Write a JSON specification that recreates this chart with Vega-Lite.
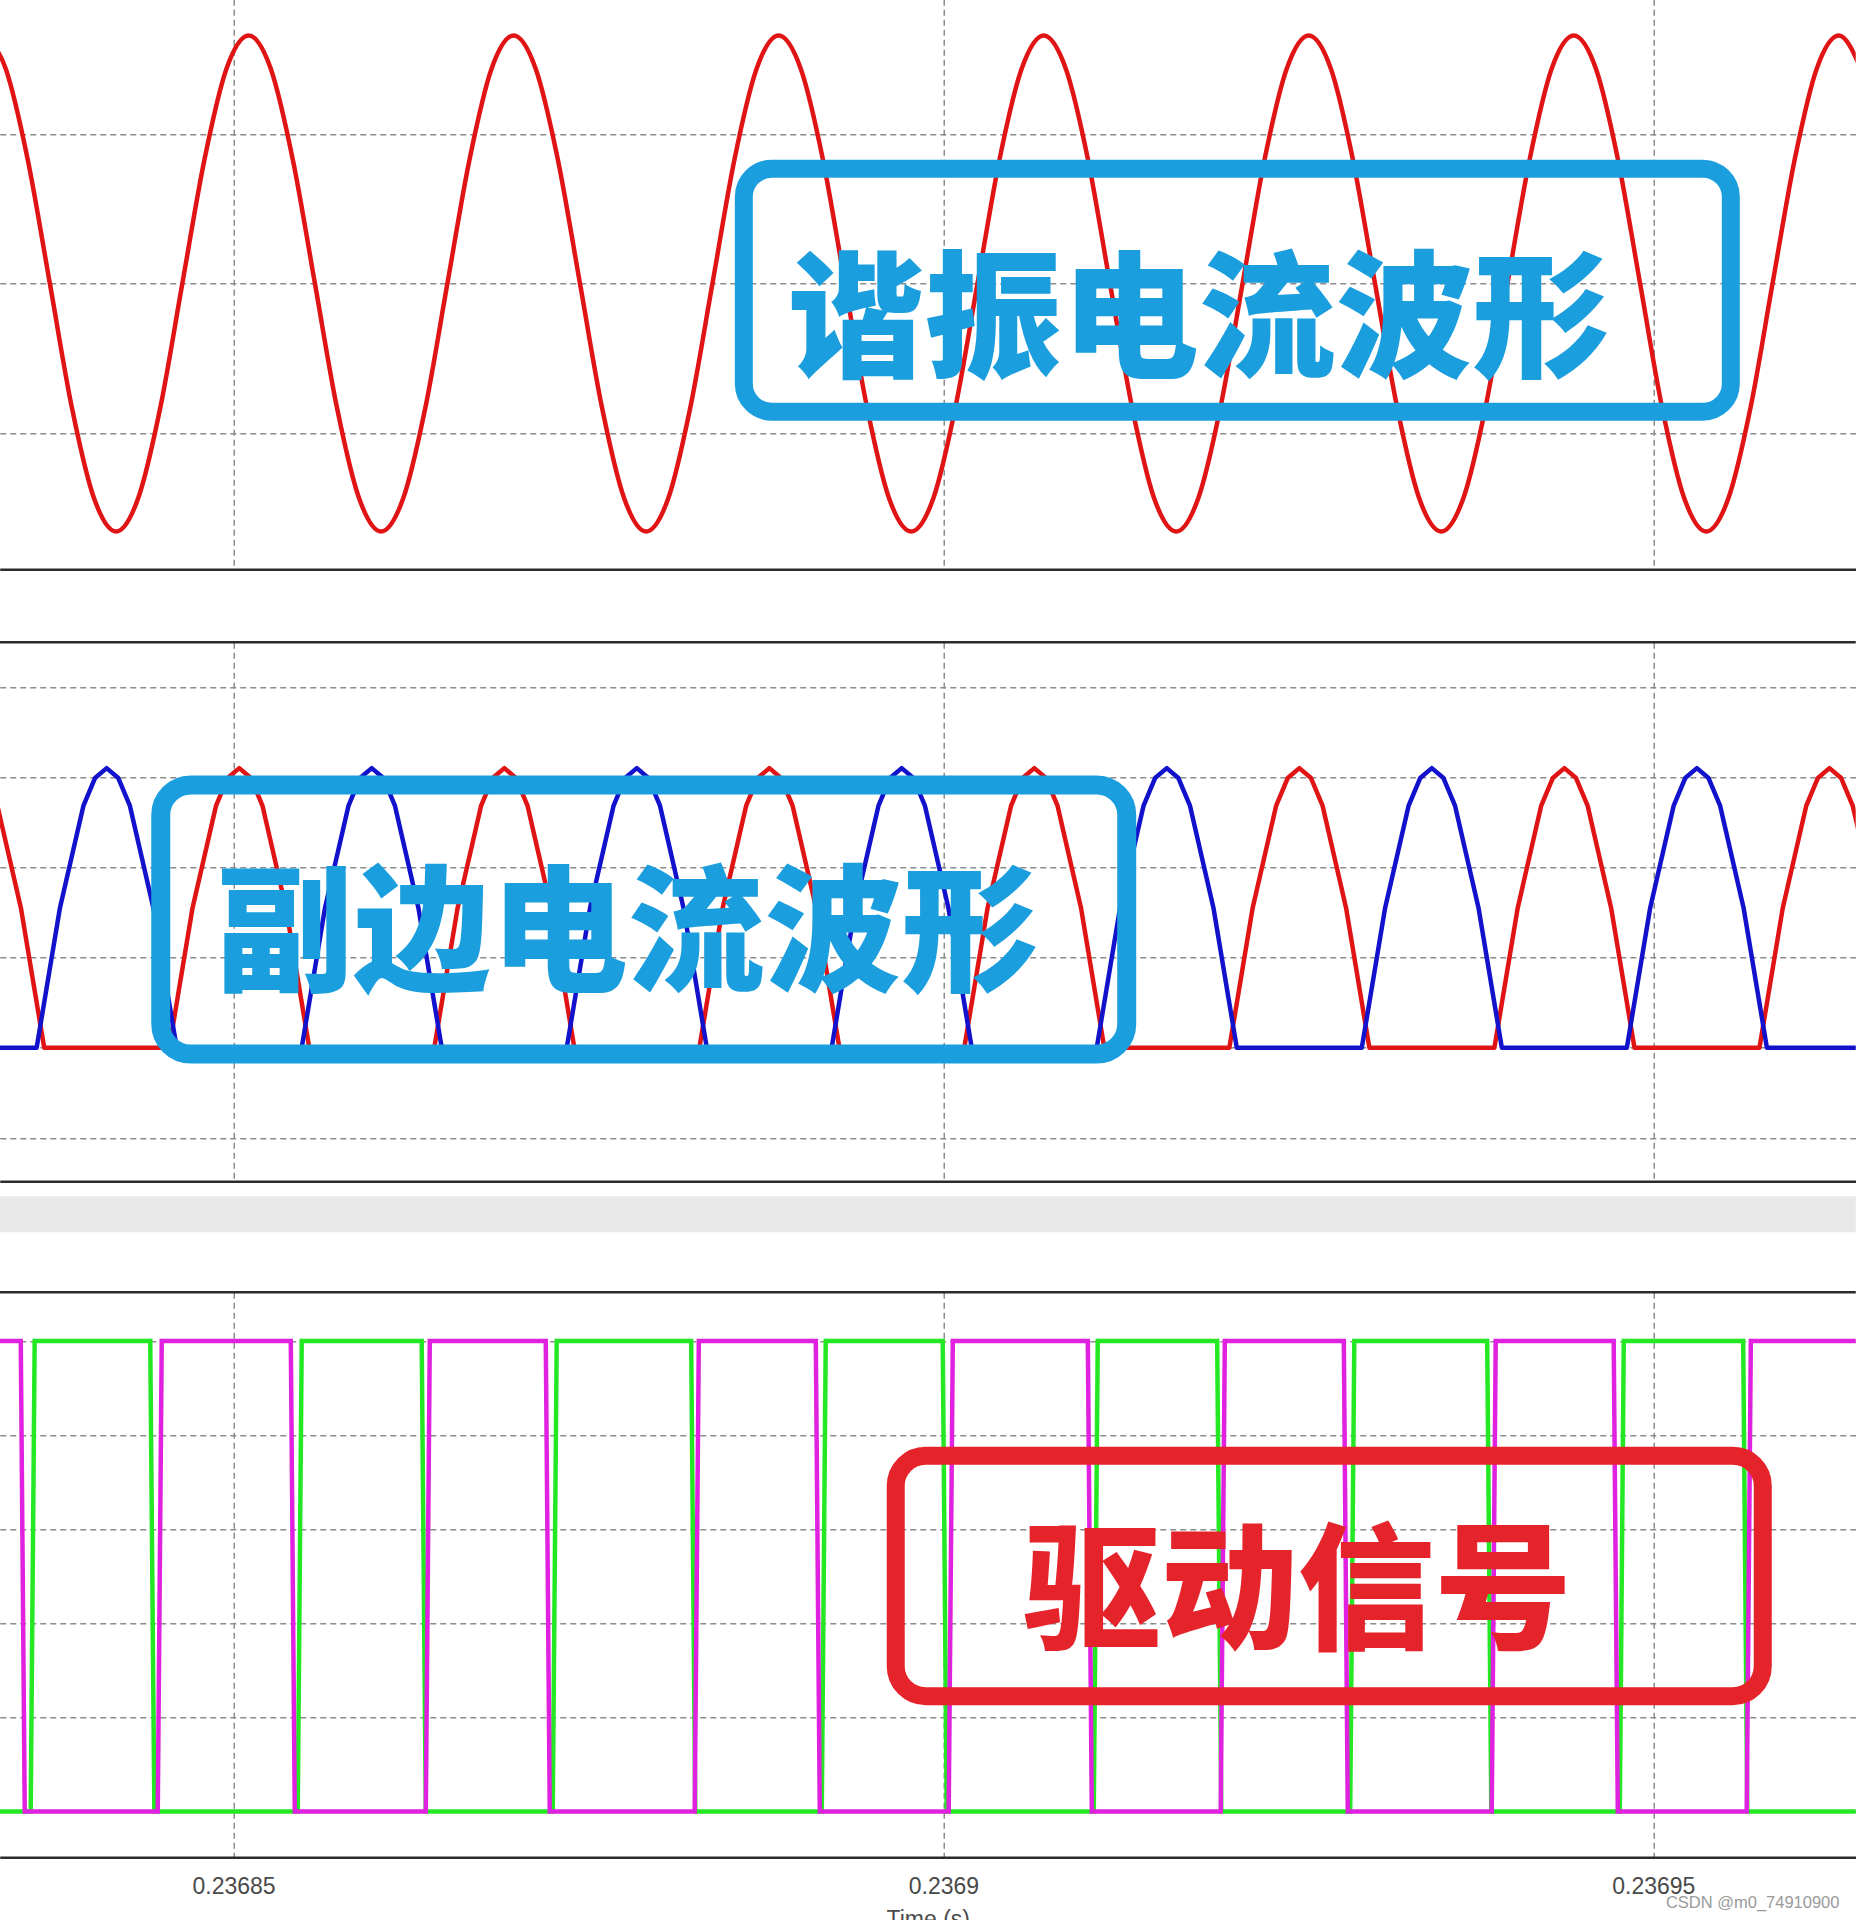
{
  "$schema": "https://vega.github.io/schema/vega-lite/v6.json",
  "padding": {"left": -2.25, "top": -0.75, "right": 0, "bottom": 0},
  "background": "#ffffff",
  "spacing": 14,
  "resolve": {"scale": {"x": "independent", "y": "independent", "color": "independent"}},
  "datasets": {
    "resonant": [
      {"t": 236832.39, "v": 33.15}, {"t": 236833.95, "v": 28.71}, {"t": 236835.50, "v": 16.58}, {"t": 236837.06, "v": 0},
      {"t": 236838.61, "v": -16.58}, {"t": 236840.17, "v": -28.71}, {"t": 236841.73, "v": -33.15}, {"t": 236843.28, "v": -28.71},
      {"t": 236844.84, "v": -16.58}, {"t": 236846.39, "v": 0}, {"t": 236847.95, "v": 16.58}, {"t": 236849.50, "v": 28.71},
      {"t": 236851.06, "v": 33.15}, {"t": 236852.62, "v": 28.71}, {"t": 236854.17, "v": 16.58}, {"t": 236855.73, "v": 0},
      {"t": 236857.28, "v": -16.58}, {"t": 236858.84, "v": -28.71}, {"t": 236860.39, "v": -33.15}, {"t": 236861.95, "v": -28.71},
      {"t": 236863.51, "v": -16.58}, {"t": 236865.06, "v": 0}, {"t": 236866.62, "v": 16.58}, {"t": 236868.17, "v": 28.71},
      {"t": 236869.73, "v": 33.15}, {"t": 236871.28, "v": 28.71}, {"t": 236872.84, "v": 16.58}, {"t": 236874.40, "v": 0},
      {"t": 236875.95, "v": -16.58}, {"t": 236877.51, "v": -28.71}, {"t": 236879.06, "v": -33.15}, {"t": 236880.62, "v": -28.71},
      {"t": 236882.17, "v": -16.58}, {"t": 236883.73, "v": 0}, {"t": 236885.28, "v": 16.58}, {"t": 236886.84, "v": 28.71},
      {"t": 236888.40, "v": 33.15}, {"t": 236889.95, "v": 28.71}, {"t": 236891.51, "v": 16.58}, {"t": 236893.06, "v": 0},
      {"t": 236894.62, "v": -16.58}, {"t": 236896.17, "v": -28.71}, {"t": 236897.73, "v": -33.15}, {"t": 236899.29, "v": -28.71},
      {"t": 236900.84, "v": -16.58}, {"t": 236902.40, "v": 0}, {"t": 236903.95, "v": 16.58}, {"t": 236905.51, "v": 28.71},
      {"t": 236907.06, "v": 33.15}, {"t": 236908.62, "v": 28.71}, {"t": 236910.18, "v": 16.58}, {"t": 236911.73, "v": 0},
      {"t": 236913.29, "v": -16.58}, {"t": 236914.84, "v": -28.71}, {"t": 236916.40, "v": -33.15}, {"t": 236917.95, "v": -28.71},
      {"t": 236919.51, "v": -16.58}, {"t": 236921.07, "v": 0}, {"t": 236922.62, "v": 16.58}, {"t": 236924.18, "v": 28.71},
      {"t": 236925.73, "v": 33.15}, {"t": 236927.29, "v": 28.71}, {"t": 236928.84, "v": 16.58}, {"t": 236930.40, "v": 0},
      {"t": 236931.96, "v": -16.58}, {"t": 236933.51, "v": -28.71}, {"t": 236935.07, "v": -33.15}, {"t": 236936.62, "v": -28.71},
      {"t": 236938.18, "v": -16.58}, {"t": 236939.73, "v": 0}, {"t": 236941.29, "v": 16.58}, {"t": 236942.84, "v": 28.71},
      {"t": 236944.40, "v": 33.15}, {"t": 236945.96, "v": 28.71}, {"t": 236947.51, "v": 16.58}, {"t": 236949.07, "v": 0},
      {"t": 236950.62, "v": -16.58}, {"t": 236952.18, "v": -28.71}, {"t": 236953.73, "v": -33.15}, {"t": 236955.29, "v": -28.71},
      {"t": 236956.85, "v": -16.58}, {"t": 236958.40, "v": 0}, {"t": 236959.96, "v": 16.58}, {"t": 236961.51, "v": 28.71},
      {"t": 236963.07, "v": 33.15}, {"t": 236964.62, "v": 28.71}
    ],
    "secondary": [
      {"s": "D1", "t": 236826.80, "v": 0}, {"s": "D1", "t": 236828.44, "v": 1.55}, {"s": "D1", "t": 236830.09, "v": 2.68}, {"s": "D1", "t": 236830.91, "v": 2.99}, {"s": "D1", "t": 236831.73, "v": 3.10}, {"s": "D1", "t": 236832.55, "v": 2.99}, {"s": "D1", "t": 236833.37, "v": 2.68}, {"s": "D1", "t": 236835.02, "v": 1.55}, {"s": "D1", "t": 236836.66, "v": 0},
      {"s": "D1", "t": 236845.47, "v": 0}, {"s": "D1", "t": 236847.11, "v": 1.55}, {"s": "D1", "t": 236848.76, "v": 2.68}, {"s": "D1", "t": 236849.58, "v": 2.99}, {"s": "D1", "t": 236850.40, "v": 3.10}, {"s": "D1", "t": 236851.22, "v": 2.99}, {"s": "D1", "t": 236852.04, "v": 2.68}, {"s": "D1", "t": 236853.69, "v": 1.55}, {"s": "D1", "t": 236855.33, "v": 0},
      {"s": "D1", "t": 236864.14, "v": 0}, {"s": "D1", "t": 236865.78, "v": 1.55}, {"s": "D1", "t": 236867.43, "v": 2.68}, {"s": "D1", "t": 236868.25, "v": 2.99}, {"s": "D1", "t": 236869.07, "v": 3.10}, {"s": "D1", "t": 236869.89, "v": 2.99}, {"s": "D1", "t": 236870.71, "v": 2.68}, {"s": "D1", "t": 236872.36, "v": 1.55}, {"s": "D1", "t": 236874.00, "v": 0},
      {"s": "D1", "t": 236882.81, "v": 0}, {"s": "D1", "t": 236884.45, "v": 1.55}, {"s": "D1", "t": 236886.10, "v": 2.68}, {"s": "D1", "t": 236886.92, "v": 2.99}, {"s": "D1", "t": 236887.74, "v": 3.10}, {"s": "D1", "t": 236888.56, "v": 2.99}, {"s": "D1", "t": 236889.38, "v": 2.68}, {"s": "D1", "t": 236891.03, "v": 1.55}, {"s": "D1", "t": 236892.67, "v": 0},
      {"s": "D1", "t": 236901.47, "v": 0}, {"s": "D1", "t": 236903.11, "v": 1.55}, {"s": "D1", "t": 236904.76, "v": 2.68}, {"s": "D1", "t": 236905.58, "v": 2.99}, {"s": "D1", "t": 236906.40, "v": 3.10}, {"s": "D1", "t": 236907.22, "v": 2.99}, {"s": "D1", "t": 236908.04, "v": 2.68}, {"s": "D1", "t": 236909.69, "v": 1.55}, {"s": "D1", "t": 236911.33, "v": 0},
      {"s": "D1", "t": 236920.14, "v": 0}, {"s": "D1", "t": 236921.78, "v": 1.55}, {"s": "D1", "t": 236923.43, "v": 2.68}, {"s": "D1", "t": 236924.25, "v": 2.99}, {"s": "D1", "t": 236925.07, "v": 3.10}, {"s": "D1", "t": 236925.89, "v": 2.99}, {"s": "D1", "t": 236926.71, "v": 2.68}, {"s": "D1", "t": 236928.36, "v": 1.55}, {"s": "D1", "t": 236930.00, "v": 0},
      {"s": "D1", "t": 236938.81, "v": 0}, {"s": "D1", "t": 236940.45, "v": 1.55}, {"s": "D1", "t": 236942.10, "v": 2.68}, {"s": "D1", "t": 236942.92, "v": 2.99}, {"s": "D1", "t": 236943.74, "v": 3.10}, {"s": "D1", "t": 236944.56, "v": 2.99}, {"s": "D1", "t": 236945.38, "v": 2.68}, {"s": "D1", "t": 236947.03, "v": 1.55}, {"s": "D1", "t": 236948.67, "v": 0},
      {"s": "D1", "t": 236957.48, "v": 0}, {"s": "D1", "t": 236959.12, "v": 1.55}, {"s": "D1", "t": 236960.77, "v": 2.68}, {"s": "D1", "t": 236961.59, "v": 2.99}, {"s": "D1", "t": 236962.41, "v": 3.10}, {"s": "D1", "t": 236963.23, "v": 2.99}, {"s": "D1", "t": 236964.05, "v": 2.68}, {"s": "D1", "t": 236965.70, "v": 1.55}, {"s": "D1", "t": 236967.34, "v": 0},
      {"s": "D2", "t": 236832.00, "v": 0},
      {"s": "D2", "t": 236836.13, "v": 0}, {"s": "D2", "t": 236837.77, "v": 1.55}, {"s": "D2", "t": 236839.42, "v": 2.68}, {"s": "D2", "t": 236840.24, "v": 2.99}, {"s": "D2", "t": 236841.06, "v": 3.10}, {"s": "D2", "t": 236841.88, "v": 2.99}, {"s": "D2", "t": 236842.70, "v": 2.68}, {"s": "D2", "t": 236844.35, "v": 1.55}, {"s": "D2", "t": 236845.99, "v": 0},
      {"s": "D2", "t": 236854.80, "v": 0}, {"s": "D2", "t": 236856.44, "v": 1.55}, {"s": "D2", "t": 236858.09, "v": 2.68}, {"s": "D2", "t": 236858.91, "v": 2.99}, {"s": "D2", "t": 236859.73, "v": 3.10}, {"s": "D2", "t": 236860.55, "v": 2.99}, {"s": "D2", "t": 236861.37, "v": 2.68}, {"s": "D2", "t": 236863.02, "v": 1.55}, {"s": "D2", "t": 236864.66, "v": 0},
      {"s": "D2", "t": 236873.47, "v": 0}, {"s": "D2", "t": 236875.11, "v": 1.55}, {"s": "D2", "t": 236876.76, "v": 2.68}, {"s": "D2", "t": 236877.58, "v": 2.99}, {"s": "D2", "t": 236878.40, "v": 3.10}, {"s": "D2", "t": 236879.22, "v": 2.99}, {"s": "D2", "t": 236880.04, "v": 2.68}, {"s": "D2", "t": 236881.69, "v": 1.55}, {"s": "D2", "t": 236883.33, "v": 0},
      {"s": "D2", "t": 236892.13, "v": 0}, {"s": "D2", "t": 236893.77, "v": 1.55}, {"s": "D2", "t": 236895.42, "v": 2.68}, {"s": "D2", "t": 236896.24, "v": 2.99}, {"s": "D2", "t": 236897.06, "v": 3.10}, {"s": "D2", "t": 236897.88, "v": 2.99}, {"s": "D2", "t": 236898.70, "v": 2.68}, {"s": "D2", "t": 236900.35, "v": 1.55}, {"s": "D2", "t": 236901.99, "v": 0},
      {"s": "D2", "t": 236910.80, "v": 0}, {"s": "D2", "t": 236912.44, "v": 1.55}, {"s": "D2", "t": 236914.09, "v": 2.68}, {"s": "D2", "t": 236914.91, "v": 2.99}, {"s": "D2", "t": 236915.73, "v": 3.10}, {"s": "D2", "t": 236916.55, "v": 2.99}, {"s": "D2", "t": 236917.37, "v": 2.68}, {"s": "D2", "t": 236919.02, "v": 1.55}, {"s": "D2", "t": 236920.66, "v": 0},
      {"s": "D2", "t": 236929.47, "v": 0}, {"s": "D2", "t": 236931.11, "v": 1.55}, {"s": "D2", "t": 236932.76, "v": 2.68}, {"s": "D2", "t": 236933.58, "v": 2.99}, {"s": "D2", "t": 236934.40, "v": 3.10}, {"s": "D2", "t": 236935.22, "v": 2.99}, {"s": "D2", "t": 236936.04, "v": 2.68}, {"s": "D2", "t": 236937.69, "v": 1.55}, {"s": "D2", "t": 236939.33, "v": 0},
      {"s": "D2", "t": 236948.14, "v": 0}, {"s": "D2", "t": 236949.78, "v": 1.55}, {"s": "D2", "t": 236951.43, "v": 2.68}, {"s": "D2", "t": 236952.25, "v": 2.99}, {"s": "D2", "t": 236953.07, "v": 3.10}, {"s": "D2", "t": 236953.89, "v": 2.99}, {"s": "D2", "t": 236954.71, "v": 2.68}, {"s": "D2", "t": 236956.36, "v": 1.55}, {"s": "D2", "t": 236958.00, "v": 0},
      {"s": "D2", "t": 236966.00, "v": 0}
    ],
    "drive": [
      {"s": "Q2", "t": 236833.18, "v": 0}, {"s": "Q2", "t": 236835.71, "v": 0}, {"s": "Q2", "t": 236835.99, "v": 1}, {"s": "Q2", "t": 236844.13, "v": 1}, {"s": "Q2", "t": 236844.42, "v": 0},
      {"s": "Q2", "t": 236854.52, "v": 0}, {"s": "Q2", "t": 236854.80, "v": 1}, {"s": "Q2", "t": 236863.25, "v": 1}, {"s": "Q2", "t": 236863.54, "v": 0},
      {"s": "Q2", "t": 236872.48, "v": 0}, {"s": "Q2", "t": 236872.76, "v": 1}, {"s": "Q2", "t": 236882.23, "v": 1}, {"s": "Q2", "t": 236882.52, "v": 0},
      {"s": "Q2", "t": 236891.43, "v": 0}, {"s": "Q2", "t": 236891.71, "v": 1}, {"s": "Q2", "t": 236899.95, "v": 1}, {"s": "Q2", "t": 236900.23, "v": 0},
      {"s": "Q2", "t": 236910.59, "v": 0}, {"s": "Q2", "t": 236910.87, "v": 1}, {"s": "Q2", "t": 236919.28, "v": 1}, {"s": "Q2", "t": 236919.57, "v": 0},
      {"s": "Q2", "t": 236928.65, "v": 0}, {"s": "Q2", "t": 236928.94, "v": 1}, {"s": "Q2", "t": 236938.30, "v": 1}, {"s": "Q2", "t": 236938.59, "v": 0},
      {"s": "Q2", "t": 236947.64, "v": 0}, {"s": "Q2", "t": 236947.92, "v": 1}, {"s": "Q2", "t": 236956.33, "v": 1}, {"s": "Q2", "t": 236956.62, "v": 0},
      {"s": "Q2", "t": 236964.54, "v": 0},
      {"s": "Q1", "t": 236833.18, "v": 1}, {"s": "Q1", "t": 236835.01, "v": 1}, {"s": "Q1", "t": 236835.29, "v": 0},
      {"s": "Q1", "t": 236844.66, "v": 0}, {"s": "Q1", "t": 236844.94, "v": 1}, {"s": "Q1", "t": 236854.03, "v": 1}, {"s": "Q1", "t": 236854.31, "v": 0},
      {"s": "Q1", "t": 236863.54, "v": 0}, {"s": "Q1", "t": 236863.82, "v": 1}, {"s": "Q1", "t": 236871.99, "v": 1}, {"s": "Q1", "t": 236872.27, "v": 0},
      {"s": "Q1", "t": 236882.48, "v": 0}, {"s": "Q1", "t": 236882.77, "v": 1}, {"s": "Q1", "t": 236891.01, "v": 1}, {"s": "Q1", "t": 236891.29, "v": 0},
      {"s": "Q1", "t": 236900.37, "v": 0}, {"s": "Q1", "t": 236900.66, "v": 1}, {"s": "Q1", "t": 236910.17, "v": 1}, {"s": "Q1", "t": 236910.45, "v": 0},
      {"s": "Q1", "t": 236919.53, "v": 0}, {"s": "Q1", "t": 236919.82, "v": 1}, {"s": "Q1", "t": 236928.20, "v": 1}, {"s": "Q1", "t": 236928.48, "v": 0},
      {"s": "Q1", "t": 236938.62, "v": 0}, {"s": "Q1", "t": 236938.90, "v": 1}, {"s": "Q1", "t": 236947.21, "v": 1}, {"s": "Q1", "t": 236947.50, "v": 0},
      {"s": "Q1", "t": 236956.58, "v": 0}, {"s": "Q1", "t": 236956.87, "v": 1}, {"s": "Q1", "t": 236964.54, "v": 1}
    ],
    "borders": [
      {"panel": 2, "t": 236833.53, "t2": 236964.26, "v": 4.495},
      {"panel": 3, "t": 236833.53, "t2": 236964.26, "v": 1.1035}
    ],
    "band": [
      {"t": 236833.53, "t2": 236964.26, "v": 1.3076, "v2": 1.2311}
    ],
    "boxes": [
      {"panel": 1, "t": 236885.94, "t2": 236955.46, "v": 15.34, "v2": -17.14},
      {"panel": 2, "t": 236844.87, "t2": 236912.91, "v": 2.913, "v2": -0.069},
      {"panel": 3, "t": 236896.64, "t2": 236957.71, "v": 0.7559, "v2": 0.2447}
    ],
    "labels": [
      {"panel": 1, "t": 236917.98, "v": -5.71, "label": "谐振电流波形"},
      {"panel": 2, "t": 236877.76, "v": 1.195, "label": "副边电流波形"},
      {"panel": 3, "t": 236924.96, "v": 0.453, "label": "驱动信号"}
    ],
    "watermark": [
      {"t": 236957.00, "v": -0.194, "label": "CSDN @m0_74910900"}
    ]
  },
  "vconcat": [
    {
      "spacing": 71,
      "resolve": {"scale": {"x": "independent", "y": "independent", "color": "independent"}},
      "vconcat": [
        {
          "width": 1856,
          "height": 570,
          "encoding": {
            "x": {"field": "t", "type": "quantitative", "scale": {"domain": [236833.53, 236964.26], "nice": false, "zero": false}, "axis": {"values": [236850, 236900, 236950], "title": null}},
            "y": {"field": "v", "type": "quantitative", "scale": {"domain": [-38.2, 38], "nice": false, "zero": false}, "axis": {"values": [-20, 0, 20], "title": null}}
          },
          "layer": [
            {
              "data": {"name": "resonant"},
              "mark": {"type": "line", "color": "#e01414", "strokeWidth": 4.5, "strokeJoin": "round", "interpolate": "monotone", "clip": true}
            },
            {
              "data": {"name": "boxes"},
              "transform": [{"filter": "datum.panel == 1"}],
              "mark": {"type": "rect", "filled": false, "stroke": "#1b9ede", "strokeWidth": 18, "cornerRadius": 28},
              "encoding": {"x2": {"field": "t2"}, "y2": {"field": "v2"}}
            },
            {
              "data": {"name": "labels"},
              "transform": [{"filter": "datum.panel == 1"}],
              "mark": {"type": "text", "color": "#1b9ede", "font": "Noto Sans CJK SC", "fontWeight": 900, "fontSize": 137, "align": "center", "baseline": "middle"},
              "encoding": {"text": {"field": "label"}}
            }
          ]
        },
        {
          "width": 1856,
          "height": 539,
          "encoding": {
            "x": {"field": "t", "type": "quantitative", "scale": {"domain": [236833.53, 236964.26], "nice": false, "zero": false}, "axis": {"values": [236850, 236900, 236950], "title": null}},
            "y": {"field": "v", "type": "quantitative", "scale": {"domain": [-1.48, 4.495], "nice": false, "zero": false}, "axis": {"values": [-1, 0, 1, 2, 3, 4], "title": null}}
          },
          "layer": [
            {
              "data": {"name": "secondary"},
              "mark": {"type": "line", "strokeWidth": 4.5, "strokeJoin": "round", "clip": true},
              "encoding": {
                "color": {"field": "s", "type": "nominal", "scale": {"domain": ["D1", "D2"], "range": ["#e01414", "#1212cc"]}, "legend": null}
              }
            },
            {
              "data": {"name": "borders"},
              "transform": [{"filter": "datum.panel == 2"}],
              "mark": {"type": "rule", "color": "#2a2a2a", "strokeWidth": 2.5},
              "encoding": {"x2": {"field": "t2"}}
            },
            {
              "data": {"name": "boxes"},
              "transform": [{"filter": "datum.panel == 2"}],
              "mark": {"type": "rect", "filled": false, "stroke": "#1b9ede", "strokeWidth": 19, "cornerRadius": 30},
              "encoding": {"x2": {"field": "t2"}, "y2": {"field": "v2"}}
            },
            {
              "data": {"name": "labels"},
              "transform": [{"filter": "datum.panel == 2"}],
              "mark": {"type": "text", "color": "#1b9ede", "font": "Noto Sans CJK SC", "fontWeight": 900, "fontSize": 137, "align": "center", "baseline": "middle"},
              "encoding": {"text": {"field": "label"}}
            }
          ]
        }
      ]
    },
    {
      "width": 1856,
      "height": 565,
      "encoding": {
        "x": {
          "field": "t", "type": "quantitative",
          "scale": {"domain": [236833.53, 236964.26], "nice": false, "zero": false},
          "axis": {
            "values": [236850, 236900, 236950],
            "labels": true,
            "labelExpr": "format(datum.value / 1000000, '.5~f')",
            "labelFont": "Liberation Sans",
            "labelFontSize": 23,
            "labelColor": "#4a4a4a",
            "labelPadding": 18,
            "title": "Time (s)",
            "titleFont": "Liberation Sans",
            "titleFontSize": 23,
            "titleFontWeight": "normal",
            "titleColor": "#4a4a4a",
            "titlePadding": 10
          }
        },
        "y": {"field": "v", "type": "quantitative", "scale": {"domain": [-0.0975, 1.1035], "nice": false, "zero": false}, "axis": {"values": [0, 0.2, 0.4, 0.6, 0.8, 1], "title": null}}
      },
      "layer": [
        {
          "data": {"name": "drive"},
          "mark": {"type": "line", "strokeWidth": 4.5, "clip": true},
          "encoding": {
            "color": {"field": "s", "type": "nominal", "scale": {"domain": ["Q1", "Q2"], "range": ["#e021e0", "#25e825"]}, "legend": null}
          }
        },
        {
          "data": {"name": "band"},
          "mark": {"type": "rect", "color": "#e9e9e9"},
          "encoding": {"x2": {"field": "t2"}, "y2": {"field": "v2"}}
        },
        {
          "data": {"name": "borders"},
          "transform": [{"filter": "datum.panel == 3"}],
          "mark": {"type": "rule", "color": "#2a2a2a", "strokeWidth": 2.5},
          "encoding": {"x2": {"field": "t2"}}
        },
        {
          "data": {"name": "boxes"},
          "transform": [{"filter": "datum.panel == 3"}],
          "mark": {"type": "rect", "filled": false, "stroke": "#e5232a", "strokeWidth": 18, "cornerRadius": 30},
          "encoding": {"x2": {"field": "t2"}, "y2": {"field": "v2"}}
        },
        {
          "data": {"name": "labels"},
          "transform": [{"filter": "datum.panel == 3"}],
          "mark": {"type": "text", "color": "#e5232a", "font": "Noto Sans CJK SC", "fontWeight": 900, "fontSize": 137, "align": "center", "baseline": "middle"},
          "encoding": {"text": {"field": "label"}}
        },
        {
          "data": {"name": "watermark"},
          "mark": {"type": "text", "color": "#9a9a9a", "font": "Liberation Sans", "fontSize": 16.5, "align": "center", "baseline": "middle"},
          "encoding": {"text": {"field": "label"}}
        }
      ]
    }
  ],
  "config": {
    "view": {"stroke": null},
    "axis": {
      "grid": true,
      "gridColor": "#8c8c8c",
      "gridDash": [6, 4],
      "gridWidth": 1.5,
      "ticks": false,
      "labels": false,
      "domainColor": "#2a2a2a",
      "domainWidth": 2.5
    },
    "axisY": {"domain": false}
  }
}
